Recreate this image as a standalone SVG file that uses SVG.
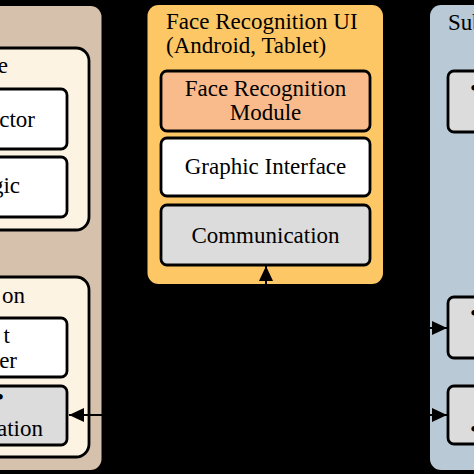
<svg xmlns="http://www.w3.org/2000/svg" width="474" height="474" viewBox="0 0 474 474">
<style>
.t{font-family:"Liberation Serif","DejaVu Serif",serif;font-size:23px;fill:#000}
.box{stroke:#000;stroke-width:2.8}
.conn{stroke:#000;stroke-width:2;fill:none}
</style>
<defs>
<marker id="ah" viewBox="0 0 15 14" refX="15" refY="7" markerWidth="15" markerHeight="14" markerUnits="userSpaceOnUse" orient="auto">
<path d="M0,0 L15,7 L0,14 Z" fill="#000"/>
</marker>
</defs>
<rect x="0" y="0" width="474" height="474" fill="#000"/>

<g id="left-panel">
<rect x="-60" y="6" width="161.5" height="464" rx="11" fill="#d6c1ad"/>
</g>
<g id="left-engine">
<rect class="box" x="-60" y="48" width="149" height="182" rx="13" fill="#fdf3e3"/>
<text class="t" x="8" y="73" text-anchor="end">e</text>
</g>
<g id="left-detector">
<rect class="box" x="-60" y="89" width="127" height="60" rx="6" fill="#fff"/>
<text class="t" x="35" y="127" text-anchor="end">ctor</text>
</g>
<g id="left-logic">
<rect class="box" x="-60" y="157" width="127" height="60" rx="6" fill="#fff"/>
<text class="t" x="20" y="193" text-anchor="end">gic</text>
</g>
<g id="left-interaction">
<rect class="box" x="-60" y="277" width="149" height="180" rx="13" fill="#fdf3e3"/>
<text class="t" x="25" y="303" text-anchor="end">on</text>
</g>
<g id="left-controller">
<rect class="box" x="-60" y="318" width="127" height="59" rx="6" fill="#fff"/>
<text class="t" x="10" y="343" text-anchor="end">t</text>
<text class="t" x="17" y="368" text-anchor="end">er</text>
</g>
<g id="left-communication">
<rect class="box" x="-60" y="386" width="127" height="59" rx="6" fill="#dcdcdc"/>
<text class="t" x="4" y="405" text-anchor="end">•</text>
<text class="t" x="43" y="436" text-anchor="end">ation</text>
</g>

<g id="ui-panel">
<rect x="147.5" y="5" width="235.5" height="279" rx="11" fill="#fdc766"/>
<text class="t" x="166" y="29">Face Recognition UI</text>
<text class="t" x="166" y="53">(Android, Tablet)</text>
</g>
<g id="ui-module">
<rect class="box" x="161" y="71" width="209" height="60" rx="6" fill="#f9bb8b"/>
<text class="t" x="265.5" y="96" text-anchor="middle">Face Recognition</text>
<text class="t" x="265.5" y="120" text-anchor="middle">Module</text>
</g>
<g id="ui-graphic">
<rect class="box" x="161" y="138" width="209" height="58" rx="6" fill="#fff"/>
<text class="t" x="265.5" y="174" text-anchor="middle">Graphic Interface</text>
</g>
<g id="ui-communication">
<rect class="box" x="161" y="205" width="209" height="60" rx="6" fill="#dcdcdc"/>
<text class="t" x="265.5" y="243" text-anchor="middle">Communication</text>
</g>

<g id="right-panel">
<rect x="430" y="5" width="100" height="465" rx="11" fill="#b9c9d5"/>
<text class="t" x="448" y="30">Sub</text>
</g>
<g id="right-box1">
<rect class="box" x="448" y="71" width="80" height="61" rx="6" fill="#dcdcdc"/>
<text class="t" x="470" y="96" font-size="28">•</text>
</g>
<g id="right-box2">
<rect class="box" x="448" y="297" width="80" height="61" rx="6" fill="#dcdcdc"/>
<text class="t" x="470" y="321" font-size="28">•</text>
</g>
<g id="right-box3">
<rect class="box" x="448" y="386" width="80" height="58" rx="6" fill="#dcdcdc"/>
<text class="t" x="470" y="437" font-size="28">•</text>
</g>

<g id="connectors">
<line class="conn" x1="130" y1="415" x2="69" y2="415" marker-end="url(#ah)"/>
<line class="conn" x1="266" y1="320" x2="266" y2="266" marker-end="url(#ah)"/>
<line class="conn" x1="400" y1="328" x2="447" y2="328" marker-end="url(#ah)"/>
<line class="conn" x1="400" y1="415" x2="447" y2="415" marker-end="url(#ah)"/>
</g>
</svg>
